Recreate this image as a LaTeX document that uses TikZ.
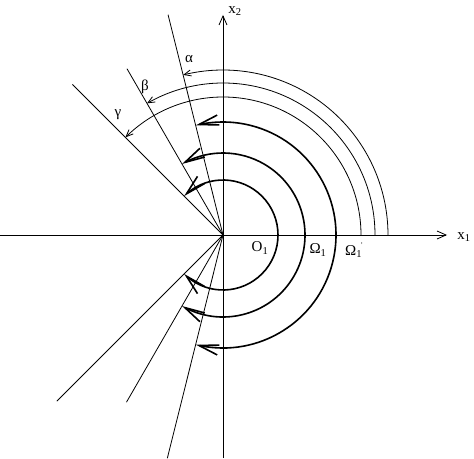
\documentclass[tikz,border=0pt]{standalone}
\usepackage{fontspec}
\setmainfont{Liberation Serif}
\usetikzlibrary{arrows.meta,bending}

\begin{document}
\begin{tikzpicture}
    [x=1pt,y=1pt,line width=0.8pt,
     lab/.style={inner sep=0pt,font=\fontsize{15}{17}\selectfont},
     bigarc/.style={line width=1.6pt,{Straight Barb[length=20pt,width=10pt,flex]}-{Straight Barb[length=20pt,width=10pt,flex]}},
     smallarc/.style={-{Straight Barb[length=7pt,width=6pt,flex]}},
     axis/.style={-{Straight Barb[length=9pt,width=8pt]}}]
    \useasboundingbox (-223,-223) rectangle (251,235);
    \coordinate (O) at (0,0);
    \coordinate (W) at (-223,0);
    \coordinate (E) at (224,0);
    \coordinate (S) at (0,-223);
    \coordinate (N) at (0,220);
    \draw[axis] (W) -- (E);
    \draw[axis] (S) -- (N);
    \node[lab] (x1) at (241,-2) {x\textsubscript{1}};
    \node[lab] (x2) at (12,224) {x\textsubscript{2}};

    % rays through the origin
    \coordinate (A) at (104:227);
    \coordinate (B) at (120:192);
    \coordinate (C) at (135:213);
    \coordinate (A') at (-104:230);
    \coordinate (B') at (-120:193);
    \coordinate (C') at (-135:235);
    \draw (O) -- (A);
    \draw (O) -- (B);
    \draw (O) -- (C);
    \draw (O) -- (A');
    \draw (O) -- (B');
    \draw (O) -- (C');
    \node[lab] (alpha) at (-34,176) {α};
    \node[lab] (beta) at (-78,148) {β};
    \node[lab] (gamma) at (-105,120) {γ};

    % thick arcs
    \draw[bigarc] (-135:55) arc[start angle=-135,end angle=135,radius=55];
    \draw[bigarc] (-120:82) arc[start angle=-120,end angle=120,radius=82];
    \draw[bigarc] (-104:113) arc[start angle=-104,end angle=104,radius=113];
    \node[lab] (O1) at (37,-13) {O\textsubscript{1}};
    \node[lab] (Om1) at (95,-15) {Ω\textsubscript{1}};
    \node[lab] (Om2) at (131,-15) {Ω\textsubscript{1}\kern-1.5pt\raisebox{1.2ex}{\scriptsize ’}};

    % thin arcs
    \draw[smallarc] (0:138) arc[start angle=0,end angle=135,radius=138];
    \draw[smallarc] (0:152) arc[start angle=0,end angle=120,radius=152];
    \draw[smallarc] (0:165) arc[start angle=0,end angle=104,radius=165];
\end{tikzpicture}
\end{document}
